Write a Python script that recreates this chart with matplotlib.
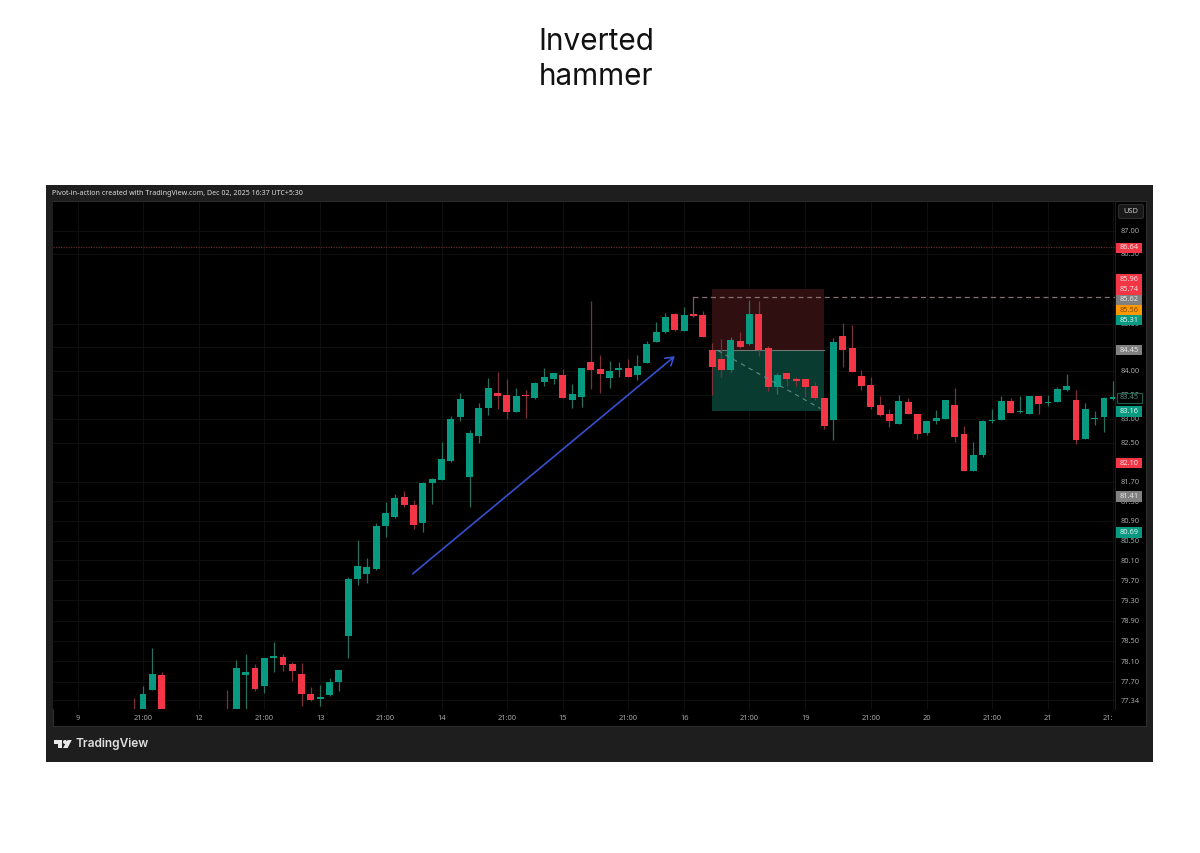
import numpy as np
import matplotlib
matplotlib.use('Agg')
import matplotlib.pyplot as plt
from matplotlib.patches import Rectangle, Polygon, Circle, FancyBboxPatch

nan = np.nan

# bars start at index -1, index 0 is the 21:00 bar of the 9th. 3..8 are below the visible range
opens = [77.10, 77.05, 77.53, 77.83, nan, nan, nan, nan, nan, nan,
         77.10, 77.05, 77.84, 77.96, 77.62, 78.16, 78.18, 78.04, 77.85, 77.47,
         77.36, 77.44, 77.69, 78.59, 79.72, 79.83, 79.92, 80.80, 80.98, 81.38,
         81.22, 80.85, 81.66, 81.74, 82.12, 83.03, 81.80, 82.64, 83.22, 83.54,
         83.49, 83.14, 83.50, 83.43, 83.77, 83.83, 83.92, 83.39, 83.46, 84.19,
         84.03, 83.85, 84.01, 84.07, 83.92, 84.17, 84.60, 84.82, 85.21, 84.85,
         85.21, 85.19, 84.44, 84.25, 84.01, 84.63, 84.56, 85.20, 84.48, 83.66,
         83.95, 83.83, 83.82, 83.69, 83.43, 82.98, 84.73, 84.49, 83.89, 83.71,
         83.29, 83.09, 82.89, 83.34, 83.09, 82.70, 82.95, 83.00, 83.28, 82.67,
         81.91, 82.25, 82.94, 82.98, 83.36, 83.13, 83.10, 83.47, 83.33, 83.34,
         83.59, 83.38, 82.58, 83.00, 83.03, 83.40]
highs = [77.38, 77.62, 78.36, 77.89, nan, nan, nan, nan, nan, nan,
         77.53, 78.13, 78.25, 78.05, 78.16, 78.48, 78.25, 78.08, 78.07, 77.59,
         77.64, 77.77, 77.93, 79.76, 80.51, 80.15, 80.85, 81.29, 81.45, 81.50,
         81.33, 81.70, 81.77, 82.52, 83.05, 83.54, 82.76, 83.32, 83.84, 83.97,
         83.83, 83.64, 83.59, 83.76, 84.06, 83.96, 84.03, 83.73, 84.07, 85.49,
         84.33, 84.20, 84.18, 84.25, 84.34, 84.64, 85.04, 85.22, 85.22, 85.35,
         85.22, 85.26, 84.58, 84.67, 84.72, 84.83, 85.51, 85.49, 84.53, 83.96,
         83.95, 83.86, 83.83, 83.76, 83.43, 84.69, 85.01, 84.98, 84.02, 83.86,
         83.48, 83.20, 83.49, 83.42, 83.10, 82.96, 83.17, 83.38, 83.63, 82.84,
         82.52, 82.97, 83.20, 83.48, 83.42, 83.47, 83.47, 83.48, 83.50, 83.67,
         83.93, 83.59, 83.32, 83.15, 83.45, 83.78]
lows = [76.95, 76.95, 77.53, 77.00, nan, nan, nan, nan, nan, nan,
        76.95, 77.00, 77.00, 77.51, 77.48, 77.88, 77.90, 77.72, 77.23, 77.32,
        77.23, 77.42, 77.52, 78.16, 79.60, 79.65, 79.91, 80.58, 80.95, 81.18,
        80.73, 80.68, 81.24, 81.73, 82.11, 82.94, 81.19, 82.49, 83.08, 83.20,
        82.99, 83.13, 83.02, 83.41, 83.68, 83.72, 83.43, 83.23, 83.24, 83.62,
        83.54, 83.64, 83.88, 83.87, 83.80, 84.16, 84.60, 84.81, 84.84, 84.85,
        85.15, 84.71, 83.50, 83.88, 83.97, 84.49, 84.55, 84.31, 83.57, 83.52,
        83.69, 83.68, 83.46, 83.39, 82.78, 82.55, 84.09, 83.98, 83.59, 83.21,
        83.06, 82.83, 82.88, 83.10, 82.58, 82.66, 82.89, 83.00, 82.52, 81.91,
        81.91, 82.20, 82.90, 82.97, 83.11, 83.11, 83.09, 83.10, 83.26, 83.34,
        83.58, 82.47, 82.57, 82.87, 82.73, 83.39]
closes = [77.00, 77.46, 77.85, 77.05, nan, nan, nan, nan, nan, nan,
          77.00, 77.96, 77.88, 77.56, 78.16, 78.21, 78.03, 77.90, 77.46, 77.34,
          77.41, 77.70, 77.93, 79.73, 79.98, 79.96, 80.80, 81.05, 81.37, 81.22,
          80.82, 81.67, 81.76, 82.17, 82.99, 83.41, 82.70, 83.22, 83.64, 83.48,
          83.14, 83.47, 83.48, 83.75, 83.87, 83.96, 83.43, 83.52, 84.05, 84.02,
          83.94, 83.99, 84.05, 83.88, 84.11, 84.57, 84.82, 85.15, 84.86, 85.19,
          85.16, 84.71, 84.09, 84.02, 84.65, 84.50, 85.20, 84.44, 83.66, 83.92,
          83.83, 83.78, 83.66, 83.43, 82.85, 84.61, 84.45, 83.98, 83.69, 83.25,
          83.08, 82.94, 83.36, 83.10, 82.67, 82.95, 83.02, 83.38, 82.62, 81.91,
          82.25, 82.95, 82.97, 83.36, 83.12, 83.16, 83.47, 83.31, 83.35, 83.62,
          83.68, 82.56, 83.19, 83.01, 83.44, 83.45]
bar_index = np.arange(-1, len(opens) - 1)

time_ticks = [-7, 0, 6, 13, 19, 26, 32, 39, 45, 52, 58, 65, 71, 78, 84, 91, 97, 104]
time_labels = ['9', '21:00', '12', '21:00', '13', '21:00', '14', '21:00', '15', '21:00', '16',
               '21:00', '19', '21:00', '20', '21:00', '21', '21:']
price_ticks = [87.00, 86.50, 85.00, 84.50, 84.00, 83.50, 83.00, 82.50, 81.70, 81.30, 80.90,
               80.50, 80.10, 79.70, 79.30, 78.90, 78.50, 78.10, 77.70, 77.34]

# price tags, stacked on the right scale
tag_texts = ['86.64', '85.96', '85.74', '85.62', '85.56', '85.31', '84.45', '83.16', '82.10', '81.41', '80.69']
tag_colors = ['#f23645', '#f23645', '#f23645', '#808080', '#ff9800', '#089981', '#808080', '#089981',
              '#f23645', '#808080', '#089981']
tag_text_colors = ['#f5dfe0', '#f5dfe0', '#f5dfe0', '#e6e6e6', '#7d4c05', '#e0f2ee', '#e6e6e6', '#e0f2ee',
                   '#f5dfe0', '#e6e6e6', '#e0f2ee']
tag_y = [247.8, 279.2, 289.6, 299.8, 310.1, 320.3, 350.2, 411.6, 463.0, 496.6, 532.6]

level_line = 86.64
pivot_level = 85.56
stop_price = 85.74
entry_price = 84.45
target_price = 83.16
box_start = 60.95
box_end = 73.0

GREEN = '#089981'
RED = '#f23645'
plt.rcParams['font.family'] = ['Noto Sans', 'DejaVu Sans']

# 8.53 * 100 falls just under 853 and gets truncated
fig = plt.figure(figsize=(12, 8.5301), dpi=100, facecolor='white')

# page layer in pixel coordinates
bg = fig.add_axes([0, 0, 1, 1], zorder=0)
bg.set_xlim(0, 1200)
bg.set_ylim(853, 0)
bg.axis('off')
bg.add_patch(Rectangle((46, 185), 1106.5, 577, fc='#1e1e1e', ec='none'))
bg.add_patch(Rectangle((52.7, 201.5), 1093.5, 524.5, fc='#000000', ec='#2c2c2c', lw=0.8))
bg.text(596, 59.5, 'Inverted\nhammer', family='Inter', fontsize=21.4, color='#111111',
        ha='center', va='center', linespacing=1.35)
bg.text(52, 193.6, 'Pivot-in-action created with TradingView.com, Dec 02, 2025 16:37 UTC+5:30',
        fontsize=5.1, fontweight='bold', color='#dcdcdc', va='center')
bg.text(57, 210, 'Crocs, Inc. · 30 · NASDAQ', fontsize=5.2, color='#a8a8a8', va='center')

# TradingView logo
bg.add_patch(Polygon([(53.5, 740), (62.2, 740), (62.2, 748), (58, 748), (58, 744), (53.5, 744)], fc='#e8e8e8', ec='none'))
bg.add_patch(Circle((65, 742), 2, fc='#e8e8e8', ec='none'))
bg.add_patch(Polygon([(67.6, 740), (71.8, 740), (67.6, 748), (63, 748)], fc='#e8e8e8', ec='none'))
bg.text(75.5, 744.2, 'TradingView', family='Inter', fontsize=8.6, fontweight='semibold', color='#e0e0e0', va='center')

# chart, 9.33 px per bar and a log price scale
ax = fig.add_axes([52.7 / 1200, 1 - 709 / 853, (1115 - 52.7) / 1200, (709 - 201.7) / 853], zorder=1)
ax.set_facecolor('#000000')
ax.set_yscale('log')
ax.set_xlim(-9.68, 104.18)
ax.set_ylim(77.17, 87.64)

ax.set_xticks(time_ticks)
ax.set_xticklabels(time_labels)
ax.xaxis.set_minor_locator(matplotlib.ticker.NullLocator())
ax.yaxis.tick_right()
ax.yaxis.set_minor_locator(matplotlib.ticker.NullLocator())
ax.set_yticks(price_ticks)
ax.set_yticklabels(['%.2f' % p for p in price_ticks])
ax.tick_params(axis='x', length=0, labelsize=5.4, labelcolor='#a6a6a6', pad=4.2)
ax.tick_params(axis='y', length=0, labelsize=5.4, labelcolor='#a6a6a6', pad=4.2)
ax.get_xticklabels()[-1].set_ha('right')
ax.grid(True, color='#0f0f0f', lw=0.8)
ax.set_axisbelow(True)
for side in ['top', 'left', 'bottom']:
    ax.spines[side].set_visible(False)
ax.spines['right'].set_color('#1c1c1c')

o = np.array(opens)
h = np.array(highs)
l = np.array(lows)
c = np.array(closes)
up = c >= o

# short position box
ax.add_patch(Rectangle((box_start, entry_price), box_end - box_start, stop_price - entry_price, fc='#2f0f10', ec='none', zorder=1))
ax.add_patch(Rectangle((box_start, target_price), box_end - box_start, entry_price - target_price, fc='#0a3b30', ec='none', zorder=1))
ax.plot([box_start, box_end], [entry_price, entry_price], color='#6f7573', lw=0.8, zorder=2)

ax.axhline(level_line, color='#5c2a2c', lw=0.9, ls=(0, (1, 1)), zorder=2)

# wicks look dull in the screenshot since they are thin
ax.vlines(bar_index[up], l[up], h[up], color='#2b6f60', lw=0.9, zorder=3)
ax.vlines(bar_index[~up], l[~up], h[~up], color='#7c3238', lw=0.9, zorder=3)
ax.bar(bar_index[up], c[up] - o[up], bottom=o[up], width=0.74, color=GREEN, zorder=4)
ax.bar(bar_index[~up], o[~up] - c[~up], bottom=c[~up], width=0.74, color=RED, zorder=4)

# pivot bracket and trade path
ax.plot([59, 59], [closes[60], pivot_level], color='#7a5658', lw=0.9, zorder=5)
ax.plot([59, 104.18], [pivot_level, pivot_level], color='#8a6f70', lw=0.9, ls=(0, (4, 3)), zorder=5)
ax.plot([61.6, 72.6], [entry_price - 0.02, target_price + 0.05], color='#5c8d80', lw=0.8, ls=(0, (4, 4)), zorder=5)

ax.annotate('', xy=(57.0, 84.31), xytext=(28.9, 79.83),
            arrowprops=dict(arrowstyle='->,head_length=0.55,head_width=0.35', color='#3550d0', lw=1.2,
                            shrinkA=0, shrinkB=0), zorder=6)

# overlay for the tags on the price scale
top = fig.add_axes([0, 0, 1, 1], zorder=2)
top.set_xlim(0, 1200)
top.set_ylim(853, 0)
top.axis('off')
top.patch.set_alpha(0)
top.add_patch(FancyBboxPatch((1118.5, 204.5), 25, 14, boxstyle='round,pad=0,rounding_size=2', fc='#191919', ec='#2e2e2e', lw=0.8))
top.text(1131, 211.8, 'USD', fontsize=5.4, color='#c8c8c8', ha='center', va='center')
for txt, col, tcol, yy in zip(tag_texts, tag_colors, tag_text_colors, tag_y):
    top.add_patch(Rectangle((1116, yy - 5.1), 26, 10.2, fc=col, ec='none'))
    top.text(1129, yy, txt, fontsize=5.4, color=tcol, ha='center', va='center')
# last price tag is only an outline
top.add_patch(Rectangle((1116.5, 392.6), 25.5, 10, fc='#000000', ec='#1c5c4d', lw=0.8))
top.text(1129, 397.7, '83.45', fontsize=5.4, color='#4f8a78', ha='center', va='center')

fig.savefig('out.png', dpi=100, facecolor='white')
